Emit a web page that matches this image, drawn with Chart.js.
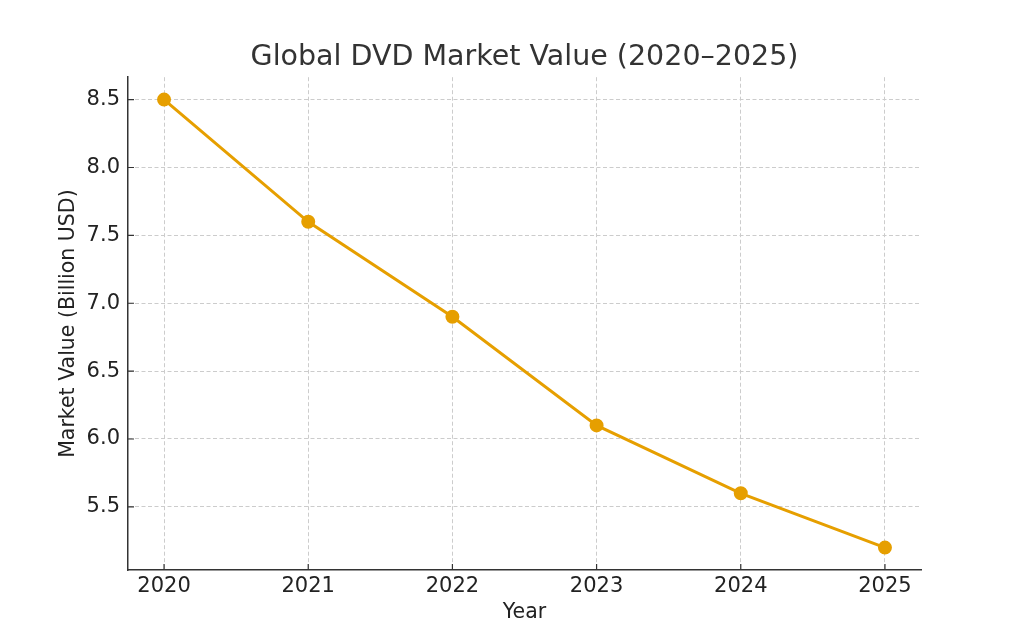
<!DOCTYPE html>
<html>
<head>
<meta charset="utf-8">
<script src="https://cdn.jsdelivr.net/npm/chart.js@4/dist/chart.umd.min.js"></script>
<style>
  html, body { margin: 0; padding: 0; background: #fff; }
  #wrap { width: 1024px; height: 640px; }
</style>
</head>
<body>
<div id="wrap"><canvas id="dvd_chart_cv"></canvas></div>
<script>
// data
var years = [2020, 2021, 2022, 2023, 2024, 2025];
var marketValues = [8.5, 7.6, 6.9, 6.1, 5.6, 5.2];
var yTickValues = [5.5, 6.0, 6.5, 7.0, 7.5, 8.0, 8.5];

var textColor = '#222222';
var spineColor = '#333333';

// inward tick marks like the original
var tickMarkPlugin = {
  id: 'tickMarks',
  afterDraw: function (chart) {
    var ctx = chart.ctx;
    var area = chart.chartArea;
    var xs = chart.scales.x, ys = chart.scales.y;
    ctx.save();
    ctx.strokeStyle = spineColor;
    ctx.lineWidth = 1.2;
    ctx.beginPath();
    years.forEach(function (v) {
      var px = xs.getPixelForValue(v);
      ctx.moveTo(px, area.bottom);
      ctx.lineTo(px, area.bottom - 6);
    });
    yTickValues.forEach(function (v) {
      var py = ys.getPixelForValue(v);
      ctx.moveTo(area.left, py);
      ctx.lineTo(area.left + 6, py);
    });
    ctx.stroke();
    ctx.restore();
  }
};

var chart = new Chart('dvd_chart_cv', {
  type: 'line',
  data: {
    datasets: [{
      label: 'Market Value',
      data: years.map(function (y, i) { return { x: y, y: marketValues[i] }; }),
      borderColor: '#E69F00',
      backgroundColor: '#E69F00',
      borderWidth: 3,
      pointRadius: 5.5,
      pointHoverRadius: 5.5,
      tension: 0
    }]
  },
  options: {
    responsive: true,
    maintainAspectRatio: false,
    animation: false,
    layout: { padding: { left: 25, right: 0, top: 0, bottom: 0 } },
    plugins: {
      legend: { display: false },
      tooltip: { enabled: false },
      title: {
        display: true,
        text: 'Global DVD Market Value (2020–2025)',
        color: '#333333',
        font: { family: 'DejaVu Sans', size: 28.5, weight: 'normal' },
        padding: { top: 40, bottom: 3 }
      }
    },
    scales: {
      x: {
        type: 'linear',
        min: 2019.75,
        max: 2025.25,
        afterBuildTicks: function (axis) {
          axis.ticks = years.map(function (v) { return { value: v }; });
        },
        afterFit: function (axis) { axis.height = 70; },
        ticks: {
          color: textColor,
          font: { family: 'DejaVu Sans', size: 21 },
          padding: 4,
          maxRotation: 0,
          callback: function (v) { return String(v); }
        },
        grid: { color: '#cccccc', lineWidth: 1, drawTicks: false },
        border: { display: true, color: spineColor, width: 1.5, dash: [4, 2.5] },
        title: {
          display: true,
          text: 'Year',
          color: textColor,
          font: { family: 'DejaVu Sans', size: 20.5 },
          padding: { top: 0, bottom: 15 }
        }
      },
      y: {
        type: 'linear',
        min: 5.035,
        max: 8.665,
        afterBuildTicks: function (axis) {
          axis.ticks = yTickValues.map(function (v) { return { value: v }; });
        },
        afterFit: function (axis) { axis.width = 103; },
        ticks: {
          color: textColor,
          font: { family: 'DejaVu Sans', size: 21 },
          padding: 8,
          callback: function (v) { return v.toFixed(1); }
        },
        grid: { color: '#cccccc', lineWidth: 1, drawTicks: false },
        border: { display: true, color: spineColor, width: 1.5, dash: [4, 2.5] },
        title: {
          display: true,
          text: 'Market Value (Billion USD)',
          color: textColor,
          font: { family: 'DejaVu Sans', size: 20.5 },
          padding: { top: 31, bottom: 0 }
        }
      },
      // empty right-hand space so the title centres over the plot
      yRight: {
        type: 'linear',
        position: 'right',
        display: true,
        afterFit: function (axis) { axis.width = 103; },
        ticks: { display: false },
        grid: { display: false, drawTicks: false },
        border: { display: false }
      }
    }
  },
  plugins: [tickMarkPlugin]
});
</script>
</body>
</html>
